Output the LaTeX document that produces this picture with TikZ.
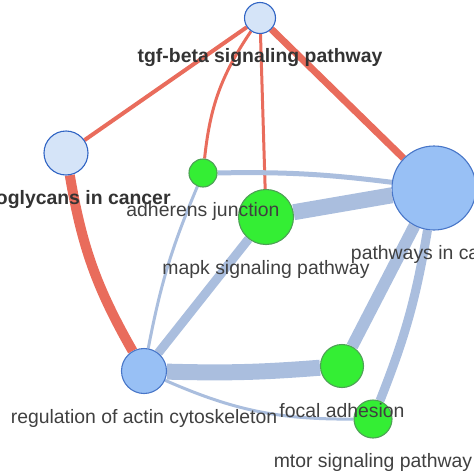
\documentclass[tikz,border=0pt]{standalone}
\usepackage{fontspec}
\setmainfont{Liberation Sans}
\usetikzlibrary{positioning,backgrounds}
\definecolor{edgered}{RGB}{233,108,92}
\definecolor{edgeblue}{RGB}{170,190,222}
\definecolor{gofill}{RGB}{52,238,52}
\definecolor{godraw}{RGB}{78,160,86}
\definecolor{palefill}{RGB}{213,228,248}
\definecolor{paledraw}{RGB}{48,100,196}
\definecolor{midfill}{RGB}{152,192,245}
\definecolor{middraw}{RGB}{72,118,200}
\definecolor{lbltext}{RGB}{64,64,64}
\newcommand\lblfont{\fontsize{19.4}{22}\selectfont}
\tikzset{
  pathnode/.style={circle,inner sep=0pt,line width=1.1pt,minimum size=#1},
  pale/.style={pathnode=#1,draw=paledraw,fill=palefill},
  mid/.style={pathnode=#1,draw=middraw,fill=midfill},
  go/.style={pathnode=#1,draw=godraw,fill=gofill},
  lbl/.style={on grid,inner sep=0pt,text=lbltext,font=\lblfont},
  boldlbl/.style={lbl,text=black!80,font=\lblfont\bfseries},
  redge/.style={draw=edgered,line width=#1},
  bedge/.style={draw=edgeblue,line width=#1},
}
\begin{document}
\begin{tikzpicture}[x=1pt,y=-1pt]
\useasboundingbox (0,0) rectangle (474,474);
\clip (0,0) rectangle (474,474);
\node[pale=31] (tgf) at (260,18) {};
\node[pale=44] (proteo) at (66,153) {};
\node[go=28] (adh) at (203,173) {};
\node[go=55] (mapk) at (266,217) {};
\node[mid=84] (cancer) at (434,188) {};
\node[mid=45] (actin) at (144,371) {};
\node[go=43] (focal) at (342,366) {};
\node[go=38] (mtor) at (373,419) {};
\begin{scope}[on background layer]
\draw[redge=4] (tgf) -- (proteo);
\draw[redge=3] (tgf) to[bend right=14] (adh);
\draw[redge=3] (tgf) -- (mapk);
\draw[redge=7] (tgf) -- (cancer);
\draw[redge=10] (proteo) to[bend right=10] (actin);
\draw[bedge=5] (adh) to[bend left=4] (cancer);
\draw[bedge=16] (mapk) -- (cancer);
\draw[bedge=3] (adh) to[bend right=6] (actin);
\draw[bedge=9] (mapk) -- (actin);
\draw[bedge=16] (actin) to[bend right=3] (focal);
\draw[bedge=3] (actin) to[bend right=12] (mtor);
\draw[bedge=12] (focal) -- (cancer);
\draw[bedge=9] (mtor) to[bend right=6] (cancer);
\end{scope}
\node[boldlbl,below=40pt of tgf] (tgfl) {tgf-beta signaling pathway};
\node[boldlbl,below=47pt of proteo,xshift=-7pt] (proteol) {proteoglycans in cancer};
\node[lbl,below=38pt of adh] (adhl) {adherens junction};
\node[lbl,below=52pt of mapk] (mapkl) {mapk signaling pathway};
\node[lbl,below=66pt of cancer] (cancerl) {pathways in cancer};
\node[lbl,below=47pt of actin] (actinl) {regulation of actin cytoskeleton};
\node[lbl,below=45pt of focal] (focall) {focal adhesion};
\node[lbl,below=43pt of mtor] (mtorl) {mtor signaling pathway};
\end{tikzpicture}
\end{document}
